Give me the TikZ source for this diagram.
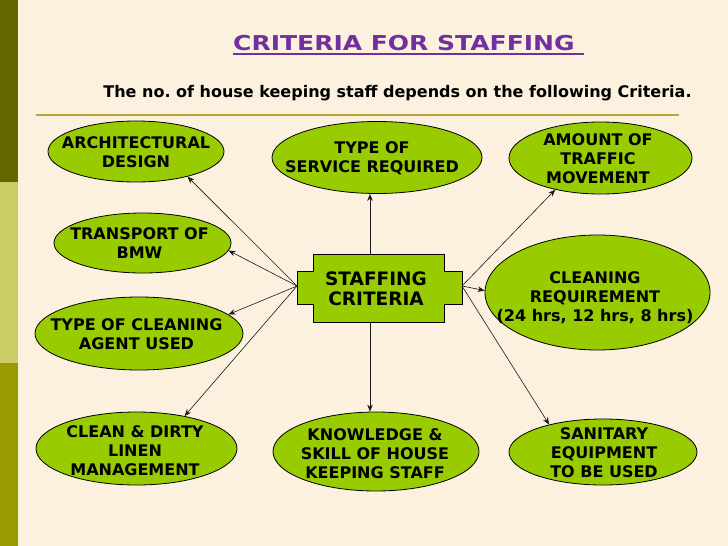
\documentclass[tikz,border=0pt]{standalone}
\usepackage{fontspec}
\usepackage{graphicx}
\setmainfont{DejaVu Sans}
\usetikzlibrary{arrows.meta,shapes.geometric,calc}
\definecolor{bg}{RGB}{251,241,222}
\definecolor{bardark}{RGB}{102,102,0}
\definecolor{barlight}{RGB}{204,204,102}
\definecolor{barolive}{RGB}{153,153,0}
\definecolor{rulecol}{RGB}{181,166,60}
\definecolor{leaf}{RGB}{153,204,0}
\definecolor{titlepurple}{RGB}{112,48,160}
\frenchspacing
\begin{document}
\begin{tikzpicture}[x=1pt,y=-1pt,
  oval/.style={ellipse, draw=black, fill=leaf, line width=0.8pt, inner sep=0pt},
  txt/.style={font=\bfseries\fontsize{16}{19}\selectfont, align=center, inner sep=0pt, text=black},
  conn/.style={-{Stealth[length=7pt,width=5.5pt]}, line width=0.6pt, draw=black!90}]
% background and bounding box
\fill[bg] (0,0) rectangle (728,546);
\useasboundingbox (0,0) rectangle (728,546);
% left bars
\fill[bardark] (0,0) rectangle (18,182);
\fill[barlight] (0,182) rectangle (18,363);
\fill[barolive] (0,363) rectangle (18,546);
% title
\node[anchor=base west, inner sep=0pt, text=titlepurple, font=\bfseries\fontsize{20.5}{24}\selectfont] (title) at (233,50) {\scalebox{1.22}[1]{CRITERIA FOR STAFFING}};
\draw[titlepurple, line width=1.5pt] ($(title.south west)+(0,3.5)$) coordinate (ulA) -- ($(title.south east)+(9,3.5)$) coordinate (ulB);
% subtitle
\node[anchor=base, inner sep=0pt, font=\bfseries\fontsize{16}{19}\selectfont] (sub) at (397.5,97) {The no. of house keeping staff depends on the following Criteria.};
% rule
\coordinate (ruleA) at (36,115);
\coordinate (ruleB) at (679,115);
\draw[rulecol, line width=2pt] (ruleA) -- (ruleB);
% hub shape
\draw[fill=leaf, line width=0.8pt] (313,254) -- (444,254) -- (444,271) -- (462,271) -- (462,304) -- (444,304) -- (444,322) -- (313,322) -- (313,304) -- (297,304) -- (297,271) -- (313,271) -- cycle;
\node[txt, font=\bfseries\fontsize{18.5}{20}\selectfont] (hub) at (376,289) {STAFFING\\CRITERIA};
\coordinate (hubL) at (297,286);
\coordinate (hubR) at (462,286);
\coordinate (hubT) at (370,254);
\coordinate (hubB) at (370,322);
% ellipses
\node[oval, minimum width=176pt, minimum height=61pt] (arch) at (136,151.5) {};
\node[oval, minimum width=210pt, minimum height=72pt] (service) at (377,157.5) {};
\node[oval, minimum width=183pt, minimum height=72pt] (traffic) at (600.5,158) {};
\node[oval, minimum width=177pt, minimum height=60pt] (transport) at (142.5,243) {};
\node[oval, minimum width=225pt, minimum height=115pt] (cleanreq) at (597.5,292.5) {};
\node[oval, minimum width=208pt, minimum height=73pt] (agent) at (139,333.5) {};
\node[oval, minimum width=201pt, minimum height=73pt] (linen) at (136.5,448.5) {};
\node[oval, minimum width=206pt, minimum height=79pt] (know) at (376,451.5) {};
\node[oval, minimum width=188pt, minimum height=66pt] (sanitary) at (603,452) {};
% texts
\node[txt] (archT) at (136,152) {ARCHITECTURAL\\DESIGN};
\node[txt] (serviceT) at (372,158) {TYPE OF\\SERVICE REQUIRED};
\node[txt] (trafficT) at (598,158.5) {AMOUNT OF\\TRAFFIC\\MOVEMENT};
\node[txt] (transportT) at (139.5,243) {TRANSPORT OF\\BMW};
\node[txt] (cleanreqT) at (595,297.5) {CLEANING\\REQUIREMENT\\(24 hrs, 12 hrs, 8 hrs)};
\node[txt] (agentT) at (136.5,334) {TYPE OF CLEANING\\AGENT USED};
\node[txt] (linenT) at (135,450.5) {CLEAN \& DIRTY\\LINEN\\MANAGEMENT};
\node[txt] (knowT) at (375,453.5) {KNOWLEDGE \&\\SKILL OF HOUSE\\KEEPING STAFF};
\node[txt] (sanitaryT) at (604,453) {SANITARY\\EQUIPMENT\\TO BE USED};
% connectors
\draw[conn] (hubL) -- (arch.-26);
\draw[conn] (hubL) -- (transport.-5);
\draw[conn] (hubL) -- (agent.12.6);
\draw[conn] (hubL) -- (linen.34);
\draw[conn] (hubR) -- (traffic.215);
\draw[conn] (hubR) -- (cleanreq.179);
\draw[conn] (hubR) -- (sanitary.153);
\draw[conn] (hubT) -- (hubT |- service.south);
\draw[conn] (hubB) -- (hubB |- know.north);
\end{tikzpicture}
\end{document}
